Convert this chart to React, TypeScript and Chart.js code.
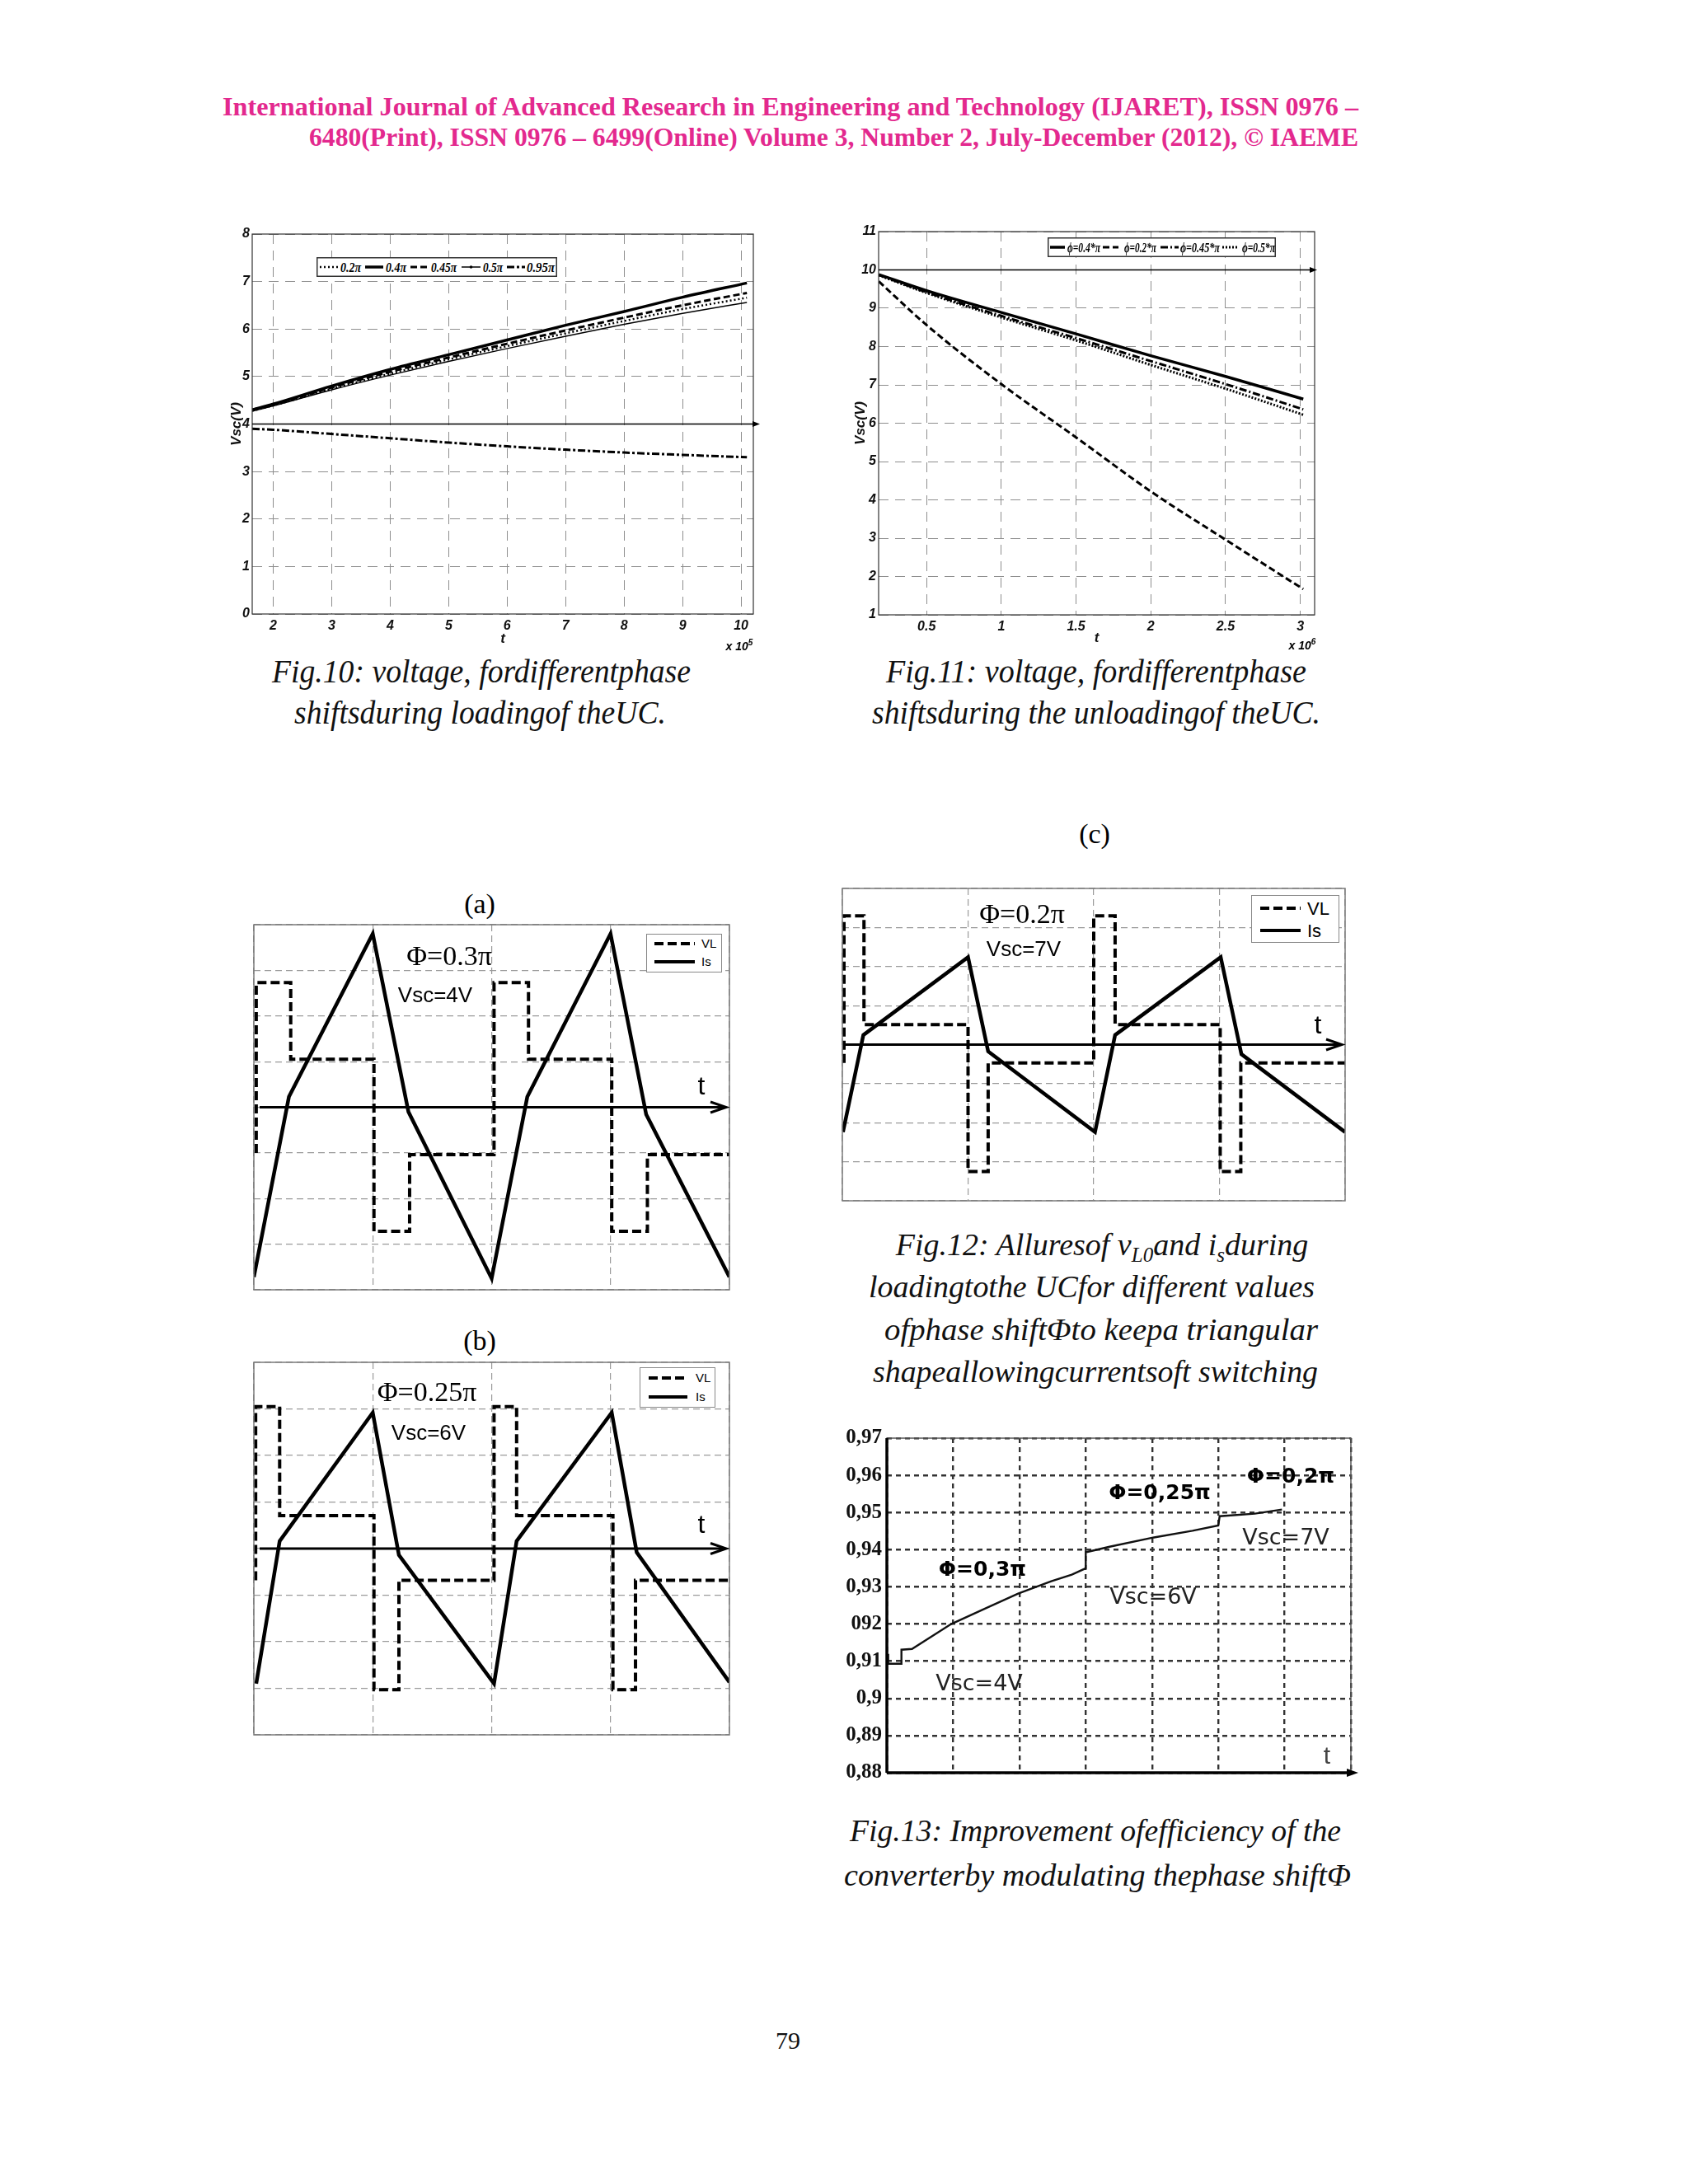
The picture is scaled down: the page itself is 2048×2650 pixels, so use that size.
import React, { useEffect, useRef } from 'react';
import { Chart, registerables } from 'chart.js';

Chart.register(...registerables);

const PINK = '#e3298e';

// ---------------- Fig.10 : voltage during loading ----------------
const fig10Labels = ['0.2π', '0.4π', '0.45π', '0.5π', '0.95π'];
const fig10T = [1.64, 2, 3, 4, 5, 6, 7, 8, 9, 10.1];
const fig10Phi02 = [4.28, 4.39, 4.74, 5.06, 5.36, 5.64, 5.91, 6.17, 6.42, 6.66];
const fig10Phi04 = [4.3, 4.42, 4.8, 5.15, 5.46, 5.77, 6.08, 6.37, 6.67, 6.97];
const fig10Phi045 = [4.3, 4.41, 4.77, 5.1, 5.4, 5.69, 5.97, 6.24, 6.5, 6.76];
const fig10Phi05 = [4.27, 4.38, 4.72, 5.03, 5.32, 5.59, 5.85, 6.1, 6.33, 6.56];
const fig10Phi095 = [3.9, 3.88, 3.79, 3.7, 3.61, 3.53, 3.46, 3.4, 3.35, 3.3];
const fig10XTicks = [2, 3, 4, 5, 6, 7, 8, 9, 10];
const fig10YTicks = [0, 1, 2, 3, 4, 5, 6, 7, 8];

// ---------------- Fig.11 : voltage during unloading ----------------
const fig11Labels = ['ϕ=0.4*π', 'ϕ=0.2*π', 'ϕ=0.45*π', 'ϕ=0.5*π'];
const fig11T = [0.18, 0.5, 1, 1.5, 2, 2.5, 3.02];
const fig11Phi04 = [9.88, 9.46, 8.89, 8.33, 7.76, 7.22, 6.63];
const fig11Phi02 = [9.7, 8.56, 7.02, 5.63, 4.22, 2.96, 1.67];
const fig11Phi045 = [9.87, 9.42, 8.8, 8.22, 7.62, 7.02, 6.36];
const fig11Phi05 = [9.86, 9.4, 8.76, 8.16, 7.52, 6.9, 6.22];
const fig11XTicks = [0.5, 1, 1.5, 2, 2.5, 3];
const fig11YTicks = [1, 2, 3, 4, 5, 6, 7, 8, 9, 10, 11];

// ---------------- Fig.12 : scope traces (divisions) ----------------
const scopeXTicks = [0, 1, 2, 3, 4];
const scopeYTicks = [-4, -3, -2, -1, 0, 1, 2, 3, 4];
const scopeLabels = ['VL', 'Is'];

const aIsT = [0, 0.295, 1.0, 1.3, 2.0, 2.3, 3.0, 3.3, 4.0];
const aIsV = [-3.72, 0.23, 3.8, -0.1, -3.75, 0.23, 3.8, -0.16, -3.72];
const aVlT = [0.02, 0.02, 0.31, 0.31, 1.01, 1.01, 1.31, 1.31, 2.02, 2.02, 2.31, 2.31, 3.01, 3.01, 3.31, 3.31, 4.0];
const aVlV = [-1.0, 2.73, 2.73, 1.05, 1.05, -2.72, -2.72, -1.04, -1.04, 2.73, 2.73, 1.05, 1.05, -2.72, -2.72, -1.04, -1.04];

const bIsT = [0.02, 0.217, 1.0, 1.22, 2.02, 2.21, 3.01, 3.22, 4.0];
const bIsV = [-2.9, 0.16, 2.92, -0.14, -2.9, 0.16, 2.92, -0.08, -2.87];
const bVlT = [0.015, 0.015, 0.217, 0.217, 1.01, 1.01, 1.22, 1.22, 2.02, 2.02, 2.21, 2.21, 3.02, 3.02, 3.21, 3.21, 4.0];
const bVlV = [-0.68, 3.05, 3.05, 0.71, 0.71, -3.03, -3.03, -0.68, -0.68, 3.05, 3.05, 0.71, 0.71, -3.03, -3.03, -0.68, -0.68];

const cIsT = [0.005, 0.167, 1.0, 1.16, 2.01, 2.17, 3.01, 3.175, 4.0];
const cIsV = [-2.24, 0.245, 2.24, -0.175, -2.24, 0.245, 2.24, -0.245, -2.24];
const cVlT = [0.013, 0.013, 0.172, 0.172, 1.0, 1.0, 1.16, 1.16, 2.0, 2.0, 2.17, 2.17, 3.006, 3.006, 3.17, 3.17, 4.0];
const cVlV = [-0.47, 3.3, 3.3, 0.51, 0.51, -3.25, -3.25, -0.47, -0.47, 3.3, 3.3, 0.51, 0.51, -3.25, -3.25, -0.47, -0.47];

// ---------------- Fig.13 : efficiency ----------------
const effT = [0.02, 0.02, 0.22, 0.22, 0.38, 0.97, 1.5, 1.98, 2.48, 2.79, 3.0, 3.0, 3.36, 4.03, 4.61, 5.0, 5.02, 5.55, 5.96];
const effV = [0.912, 0.9093, 0.9093, 0.9131, 0.9133, 0.92, 0.9243, 0.9282, 0.9315, 0.9333, 0.935, 0.9393, 0.9408, 0.9433, 0.9451, 0.9465, 0.949, 0.9497, 0.9508];
const fig13XTicks = [0, 1, 2, 3, 4, 5, 6, 7];
const fig13YTicks = [0.88, 0.89, 0.9, 0.91, 0.92, 0.93, 0.94, 0.95, 0.96, 0.97];
const fig13YLabels = ['0,88', '0,89', '0,9', '0,91', '092', '0,93', '0,94', '0,95', '0,96', '0,97'];

// ---------------- helpers ----------------
function axis(o: any) {
  const s: any = {
    type: 'linear',
    min: o.min,
    max: o.max,
    afterBuildTicks: (sc: any) => {
      sc.ticks = o.ticks.map((v: number) => ({ value: v }));
    },
    afterFit: (sc: any) => {
      if (o.horizontal) sc.height = o.fit;
      else sc.width = o.fit;
    },
    grid: { color: o.gridColor, lineWidth: o.gridWidth, drawTicks: false },
    border: { display: false, dash: o.dash },
    ticks: o.labelFont
      ? { display: true, font: o.labelFont, color: '#111', padding: o.labelPad ?? 3 }
      : { display: false },
    title: o.title
      ? { display: true, text: o.title, font: o.titleFont, color: '#111', padding: o.titlePad }
      : { display: false },
  };
  if (o.labelCb) s.ticks.callback = o.labelCb;
  return s;
}

const plainNum = (v: number) => String(Math.round(v * 1000) / 1000);

function lineDs(label: string, xs: number[], ys: number[], st: any) {
  return {
    label,
    data: xs.map((x, i) => ({ x, y: ys[i] })),
    borderColor: st.color ?? '#000',
    borderWidth: st.w,
    borderDash: st.dash ?? [],
    pointRadius: 0,
    fill: false,
    tension: st.tension ?? 0,
    cubicInterpolationMode: st.mono ? 'monotone' : 'default',
    borderCapStyle: 'butt',
    borderJoinStyle: 'miter',
  };
}

function framePlugin(o: any) {
  return {
    id: 'frame',
    afterDraw(chart: any) {
      const { ctx, chartArea: a, scales } = chart;
      ctx.save();
      ctx.strokeStyle = o.frameColor;
      ctx.lineWidth = o.frameW;
      ctx.setLineDash([]);
      ctx.strokeRect(a.left, a.top, a.right - a.left, a.bottom - a.top);
      if (o.leftAxisW) {
        ctx.strokeStyle = '#000';
        ctx.lineWidth = o.leftAxisW;
        ctx.beginPath();
        ctx.moveTo(a.left, a.top);
        ctx.lineTo(a.left, a.bottom);
        ctx.stroke();
      }
      if (o.arrowY !== undefined) {
        const y = scales.y.getPixelForValue(o.arrowY);
        const x0 = a.left + (o.arrowFrom ?? 0);
        const tip = a.right + o.arrowTip;
        ctx.strokeStyle = '#000';
        ctx.fillStyle = '#000';
        ctx.lineWidth = o.arrowW;
        ctx.beginPath();
        ctx.moveTo(x0, y);
        ctx.lineTo(o.head === 'fill' ? tip - o.headLen * 0.6 : tip - 1, y);
        ctx.stroke();
        if (o.head === 'fill') {
          ctx.beginPath();
          ctx.moveTo(tip, y);
          ctx.lineTo(tip - o.headLen, y - o.headHalf);
          ctx.lineTo(tip - o.headLen, y + o.headHalf);
          ctx.closePath();
          ctx.fill();
        } else {
          ctx.lineJoin = 'miter';
          ctx.beginPath();
          ctx.moveTo(tip - o.headLen, y - o.headHalf);
          ctx.lineTo(tip, y);
          ctx.lineTo(tip - o.headLen, y + o.headHalf);
          ctx.stroke();
        }
      }
      ctx.restore();
    },
  };
}

function baseOptions(padding: any, x: any, y: any) {
  return {
    responsive: false,
    animation: false,
    devicePixelRatio: 1,
    events: [],
    layout: { padding },
    plugins: { legend: { display: false }, tooltip: { enabled: false }, title: { display: false } },
    scales: { x, y },
  };
}

function ChartBox({ left, top, width, height, make }: any) {
  const ref = useRef<HTMLCanvasElement>(null);
  useEffect(() => {
    const chart = new Chart(ref.current as HTMLCanvasElement, make());
    return () => chart.destroy();
  }, []);
  return (
    <canvas
      ref={ref}
      width={width}
      height={height}
      style={{ position: 'absolute', left, top, width, height }}
    />
  );
}

// ---------------- chart configs ----------------
const matlabTick = { family: 'Liberation Sans', size: 16, weight: 'bold', style: 'italic' };
const matlabTitle = { family: 'Liberation Sans', size: 17, weight: 'bold', style: 'italic' };

const fig10Styles = [
  { dash: [2, 3], w: 2.5, mono: true },
  { dash: [], w: 3.5, mono: true },
  { dash: [8, 4], w: 3, mono: true },
  { dash: [], w: 1.5, mono: true },
  { dash: [9, 3, 3, 3], w: 3, mono: true },
];
const fig11Styles = [
  { dash: [], w: 3.5, mono: true },
  { dash: [8, 4], w: 3, mono: true },
  { dash: [9, 3, 2, 3], w: 3, mono: true },
  { dash: [2, 2], w: 3, mono: true },
];

function fig10Config() {
  const series = [fig10Phi02, fig10Phi04, fig10Phi045, fig10Phi05, fig10Phi095];
  return {
    type: 'line',
    data: { datasets: series.map((s, i) => lineDs(fig10Labels[i], fig10T, s, fig10Styles[i])) },
    options: baseOptions(
      { left: 0, top: 14, right: 22, bottom: 8 },
      axis({ min: 1.64, max: 10.21, ticks: fig10XTicks, horizontal: true, fit: 42, gridColor: '#8e8e8e', gridWidth: 1, dash: [12, 8], labelFont: matlabTick, labelPad: 5, labelCb: plainNum, title: 't', titleFont: matlabTitle, titlePad: { top: 0, bottom: 1 } }),
      axis({ min: 0, max: 8, ticks: fig10YTicks, fit: 48, gridColor: '#8e8e8e', gridWidth: 1, dash: [12, 8], labelFont: matlabTick, labelPad: 3, labelCb: plainNum, title: 'Vsc(V)', titleFont: matlabTitle, titlePad: { top: 19, bottom: 0 } })
    ),
    plugins: [framePlugin({ frameColor: '#333', frameW: 1.2, arrowY: 4, arrowTip: 8, arrowW: 1.6, head: 'fill', headLen: 9, headHalf: 3.5 })],
  };
}

function fig11Config() {
  const series = [fig11Phi04, fig11Phi02, fig11Phi045, fig11Phi05];
  return {
    type: 'line',
    data: { datasets: series.map((s, i) => lineDs(fig11Labels[i], fig11T, s, fig11Styles[i])) },
    options: baseOptions(
      { left: 0, top: 14, right: 22, bottom: 8 },
      axis({ min: 0.179, max: 3.096, ticks: fig11XTicks, horizontal: true, fit: 42, gridColor: '#8e8e8e', gridWidth: 1, dash: [12, 8], labelFont: matlabTick, labelPad: 5, labelCb: plainNum, title: 't', titleFont: matlabTitle, titlePad: { top: 0, bottom: 3 } }),
      axis({ min: 1, max: 11, ticks: fig11YTicks, fit: 48, gridColor: '#8e8e8e', gridWidth: 1, dash: [12, 8], labelFont: matlabTick, labelPad: 3, labelCb: plainNum, title: 'Vsc(V)', titleFont: matlabTitle, titlePad: { top: 16, bottom: 0 } })
    ),
    plugins: [framePlugin({ frameColor: '#333', frameW: 1.2, arrowY: 10, arrowTip: 3, arrowW: 1.6, head: 'fill', headLen: 9, headHalf: 3.5 })],
  };
}

function scopeConfig(isT: number[], isV: number[], vlT: number[], vlV: number[], arrowFrom: number) {
  return () => ({
    type: 'line',
    data: {
      datasets: [
        lineDs(scopeLabels[0], vlT, vlV, { dash: [11, 5], w: 4 }),
        lineDs(scopeLabels[1], isT, isV, { dash: [], w: 4.5 }),
      ],
    },
    options: baseOptions(
      { left: 10, top: 10, right: 12, bottom: 10 },
      axis({ min: 0, max: 4, ticks: scopeXTicks, horizontal: true, fit: 0, gridColor: '#9a9a9a', gridWidth: 1.2, dash: [8, 5] }),
      axis({ min: -4, max: 4, ticks: scopeYTicks, fit: 0, gridColor: '#9a9a9a', gridWidth: 1.2, dash: [8, 5] })
    ),
    plugins: [framePlugin({ frameColor: '#7a7a7a', frameW: 1.5, arrowY: 0, arrowFrom, arrowTip: -4, arrowW: 3, head: 'chevron', headLen: 19, headHalf: 6.5 })],
  });
}

function fig13Config() {
  return {
    type: 'line',
    data: { datasets: [lineDs('efficiency', effT, effV, { dash: [], w: 2.4, color: '#111' })] },
    options: baseOptions(
      { left: 0, top: 16, right: 16, bottom: 14 },
      axis({ min: 0, max: 7, ticks: fig13XTicks, horizontal: true, fit: 0, gridColor: '#333', gridWidth: 2.4, dash: [6, 5] }),
      axis({
        min: 0.88, max: 0.97, ticks: fig13YTicks, fit: 62, gridColor: '#333', gridWidth: 2.4, dash: [6, 5],
        labelFont: { family: 'Liberation Serif', size: 25, weight: 'bold' }, labelPad: 6,
        labelCb: (v: number) => {
          const i = fig13YTicks.findIndex((t) => Math.abs(t - v) < 1e-6);
          return i >= 0 ? fig13YLabels[i] : '';
        },
      })
    ),
    plugins: [framePlugin({ frameColor: '#555', frameW: 1.5, leftAxisW: 3.5, arrowY: 0.88, arrowTip: 9, arrowW: 3.5, head: 'fill', headLen: 14, headHalf: 5 })],
  };
}

// ---------------- overlays ----------------
function Label({ x, y, font, color = '#000', children }: any) {
  return (
    <div
      style={{
        position: 'absolute', left: x, top: y, transform: 'translate(-50%, -50%)',
        font, color, whiteSpace: 'nowrap', lineHeight: 1,
      }}
    >
      {children}
    </div>
  );
}

function LegendMatlab({ left, top, width, height, items, labels, styles, font }: any) {
  return (
    <svg style={{ position: 'absolute', left, top }} width={width} height={height}>
      <rect x={0.75} y={0.75} width={width - 1.5} height={height - 1.5} fill="#fff" stroke="#333" strokeWidth={1.5} />
      {items.map((it: any, i: number) => (
        <g key={i}>
          <line x1={it.sx1} y1={height / 2} x2={it.sx2} y2={height / 2} stroke="#000" strokeWidth={styles[i].w}
            strokeDasharray={styles[i].dash.length ? styles[i].dash.join(' ') : undefined} />
          {styles[i].dot ? <circle cx={(it.sx1 + it.sx2) / 2} cy={height / 2} r={1.8} fill="#000" /> : null}
          <text x={it.tx} y={height / 2 + 6} textLength={it.tw} lengthAdjust="spacingAndGlyphs"
            fontFamily={font.family} fontStyle="italic" fontWeight="bold" fontSize={font.size} fill="#000">
            {labels[i]}
          </text>
        </g>
      ))}
    </svg>
  );
}

function ScopeLegend({ left, top, width, height, y1, y2, sx1, sx2, tx, fontSize }: any) {
  return (
    <svg style={{ position: 'absolute', left, top }} width={width} height={height}>
      <rect x={0.5} y={0.5} width={width - 1} height={height - 1} fill="#fff" stroke="#888" strokeWidth={1} />
      <line x1={sx1} y1={y1} x2={sx2} y2={y1} stroke="#000" strokeWidth={4} strokeDasharray="11 5" />
      <text x={tx} y={y1 + fontSize * 0.36} fontFamily="Liberation Sans" fontSize={fontSize} fill="#000">{scopeLabels[0]}</text>
      <line x1={sx1} y1={y2} x2={sx2} y2={y2} stroke="#000" strokeWidth={4} />
      <text x={tx} y={y2 + fontSize * 0.36} fontFamily="Liberation Sans" fontSize={fontSize} fill="#000">{scopeLabels[1]}</text>
    </svg>
  );
}

const serifPhi = "34px 'Liberation Serif'";
const sansV = "26px 'Liberation Sans'";
const sansT = "32px 'Liberation Sans'";
const f13Phi = "bold 25px 'DejaVu Sans'";
const f13V = "27px 'DejaVu Sans'";
const tenPow = "bold italic 14px 'Liberation Sans'";

function PageText() {
  const cap: any = { fontFamily: 'Liberation Serif', fontStyle: 'italic', fill: '#111' };
  const fit: any = { lengthAdjust: 'spacingAndGlyphs' };
  return (
    <svg width={2048} height={2650} style={{ position: 'absolute', left: 0, top: 0 }}>
      <text x={270} y={140} fontFamily="Liberation Serif" fontWeight="bold" fontSize={32} fill={PINK} textLength={1378} {...fit}>
        International Journal of Advanced Research in Engineering and Technology (IJARET), ISSN 0976 –
      </text>
      <text x={375} y={177} fontFamily="Liberation Serif" fontWeight="bold" fontSize={32} fill={PINK} textLength={1273} {...fit}>
        6480(Print), ISSN 0976 – 6499(Online) Volume 3, Number 2, July-December (2012), © IAEME
      </text>

      <text x={330} y={828} fontSize={40} textLength={508} {...cap} {...fit}>Fig.10: voltage, fordifferentphase</text>
      <text x={357} y={878} fontSize={40} textLength={451} {...cap} {...fit}>shiftsduring loadingof theUC.</text>
      <text x={1075} y={828} fontSize={40} textLength={510} {...cap} {...fit}>Fig.11: voltage, fordifferentphase</text>
      <text x={1058} y={878} fontSize={40} textLength={544} {...cap} {...fit}>shiftsduring the unloadingof theUC.</text>

      <text x={1337} y={1523} fontSize={38} textAnchor="middle" {...cap}>
        <tspan>Fig.12: Alluresof v</tspan>
        <tspan fontSize={25} dy={8}>L0</tspan>
        <tspan dy={-8}>and i</tspan>
        <tspan fontSize={25} dy={8}>s</tspan>
        <tspan dy={-8}>during</tspan>
      </text>
      <text x={1054} y={1574} fontSize={38} textLength={541} {...cap} {...fit}>loadingtothe UCfor different values</text>
      <text x={1073} y={1626} fontSize={38} textLength={526} {...cap} {...fit}>ofphase shiftΦto keepa triangular</text>
      <text x={1059} y={1677} fontSize={38} textLength={540} {...cap} {...fit}>shapeallowingcurrentsoft switching</text>

      <text x={1031} y={2234} fontSize={38} textLength={596} {...cap} {...fit}>Fig.13: Improvement ofefficiency of the</text>
      <text x={1024} y={2288} fontSize={38} textLength={615} {...cap} {...fit}>converterby modulating thephase shiftΦ</text>

      <text x={956} y={2486} fontFamily="Liberation Serif" fontSize={30} textAnchor="middle" fill="#111">79</text>
    </svg>
  );
}

export default function App() {
  return (
    <div style={{ position: 'absolute', left: 0, top: 0, width: 2048, height: 2650, background: '#fff', overflow: 'hidden' }}>
      <PageText />

      {/* Fig.10 */}
      <ChartBox left={258} top={270} width={678} height={525} make={fig10Config} />
      <LegendMatlab left={384} top={312} width={292} height={24}
        labels={fig10Labels}
        styles={[...fig10Styles.slice(0, 3), { ...fig10Styles[3], dot: true }, fig10Styles[4]]}
        font={{ family: 'Liberation Serif', size: 16 }}
        items={[
          { sx1: 4, sx2: 26, tx: 29, tw: 25 },
          { sx1: 59, sx2: 81, tx: 84, tw: 25 },
          { sx1: 114, sx2: 134, tx: 139, tw: 31 },
          { sx1: 176, sx2: 199, tx: 202, tw: 24 },
          { sx1: 231, sx2: 253, tx: 255, tw: 34 },
        ]} />
      <Label x={897} y={783} font={tenPow}>x 10<sup style={{ fontSize: 10 }}>5</sup></Label>

      {/* Fig.11 */}
      <ChartBox left={1018} top={267} width={599} height={529} make={fig11Config} />
      <LegendMatlab left={1271} top={288} width={277} height={24}
        labels={fig11Labels}
        styles={fig11Styles}
        font={{ family: 'Liberation Serif', size: 16 }}
        items={[
          { sx1: 3, sx2: 21, tx: 24, tw: 40 },
          { sx1: 67, sx2: 86, tx: 93, tw: 39 },
          { sx1: 137, sx2: 159, tx: 161, tw: 48 },
          { sx1: 212, sx2: 232, tx: 236, tw: 40 },
        ]} />
      <Label x={1580} y={782} font={tenPow}>x 10<sup style={{ fontSize: 10 }}>6</sup></Label>

      {/* Fig.12 (a) */}
      <Label x={582} y={1097} font={serifPhi}>(a)</Label>
      <ChartBox left={298} top={1112} width={599} height={463} make={scopeConfig(aIsT, aIsV, aVlT, aVlV, 7)} />
      <ScopeLegend left={784} top={1133} width={92} height={47} y1={12} y2={34} sx1={10} sx2={59} tx={67} fontSize={15} />
      <Label x={545} y={1160} font={serifPhi}>Φ=0.3π</Label>
      <Label x={528} y={1207} font={sansV}>Vsc=4V</Label>
      <Label x={851} y={1317} font={sansT}>t</Label>

      {/* Fig.12 (b) */}
      <Label x={582} y={1627} font={serifPhi}>(b)</Label>
      <ChartBox left={298} top={1643} width={599} height={472} make={scopeConfig(bIsT, bIsV, bVlT, bVlV, 7)} />
      <ScopeLegend left={776} top={1659} width={92} height={49} y1={13} y2={36} sx1={11} sx2={58} tx={68} fontSize={15} />
      <Label x={518} y={1689} font={serifPhi}>Φ=0.25π</Label>
      <Label x={520} y={1738} font={sansV}>Vsc=6V</Label>
      <Label x={851} y={1849} font={sansT}>t</Label>

      {/* Fig.12 (c) */}
      <Label x={1328} y={1012} font={serifPhi}>(c)</Label>
      <ChartBox left={1012} top={1068} width={632} height={399} make={scopeConfig(cIsT, cIsV, cVlT, cVlV, 3)} />
      <ScopeLegend left={1518} top={1086} width={107} height={58} y1={16} y2={43} sx1={11} sx2={60} tx={68} fontSize={22} />
      <Label x={1240} y={1109} font={serifPhi}>Φ=0.2π</Label>
      <Label x={1242} y={1151} font={sansV}>Vsc=7V</Label>
      <Label x={1599} y={1243} font={sansT}>t</Label>

      {/* Fig.13 */}
      <ChartBox left={1014} top={1724} width={641} height={448} make={fig13Config} />
      <Label x={1192} y={1903} font={f13Phi}>Φ=0,3π</Label>
      <Label x={1407} y={1810} font={f13Phi}>Φ=0,25π</Label>
      <Label x={1566} y={1790} font={f13Phi}>Φ=0,2π</Label>
      <Label x={1188} y={2041} font={f13V} color="#222">Vsc=4V</Label>
      <Label x={1399} y={1936} font={f13V} color="#222">Vsc=6V</Label>
      <Label x={1560} y={1864} font={f13V} color="#222">Vsc=7V</Label>
      <Label x={1610} y={2130} font="30px 'Liberation Sans'" color="#444">t</Label>
    </div>
  );
}
